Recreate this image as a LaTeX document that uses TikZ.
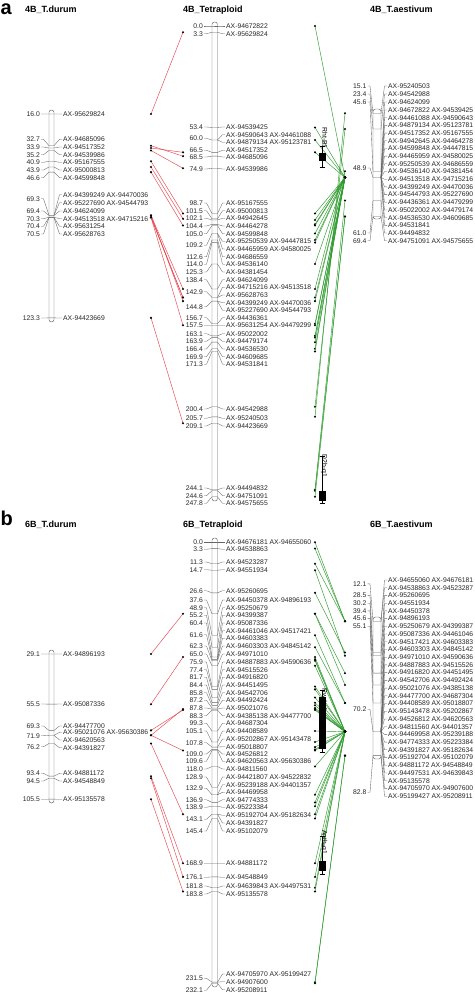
\documentclass[tikz,border=0pt]{standalone}
\usepackage{fontspec}
\setmainfont{Liberation Sans}
\definecolor{lnkgreen}{RGB}{45,155,45}
\definecolor{lnkred}{RGB}{232,70,80}
\tikzset{
  lbl/.style={font=\fontsize{6.8}{7}\selectfont, inner sep=0pt, text=black!85},
  conn/.style={draw=black!60, line width=0.35pt},
  chrom/.style={draw=black!60, line width=0.45pt, fill=white, rounded corners=2.5pt},
  redl/.style={draw=lnkred, line width=0.45pt},
  grnl/.style={draw=lnkgreen, line width=0.45pt},
  dotb/.style={fill=black, circle, inner sep=0pt, minimum size=2.3pt},
  ttl/.style={font=\bfseries\fontsize{9}{10}\selectfont, inner sep=0pt, anchor=base west},
  pnl/.style={font=\bfseries\fontsize{20}{22}\selectfont, inner sep=0.5pt, anchor=base west},
  genebox/.style={fill=black, draw=black, line width=0.3pt},
  genel/.style={font=\fontsize{6.8}{7}\selectfont, inner sep=0pt, rotate=-90},
}
\newcommand{\setchr}[6]{\def\cbL{#1}\def\cbR{#2}\def\cyz{#3}\def\cnX{#4}\def\ctX{#5}\def\cid{#6}}
\newcommand{\chrnums}[1]{\foreach \cm/\ly [count=\i] in {#1}{%
  \pgfmathsetmacro\ay{\cyz+1.9*\cm}%
  \draw[conn] (\cnX+1,\ly) -- (\cnX+3.5,\ly) -- (\cbL,\ay) -- (\cbR,\ay);
  \node[lbl,anchor=east] (\cid n\i) at (\cnX,\ly) {\cm};}}
\newcommand{\chrrows}[1]{\foreach \cm/\ly/\mk [count=\i] in {#1}{%
  \pgfmathsetmacro\ay{\cyz+1.9*\cm}%
  \draw[conn] (\cbR,\ay) -- (\ctX-3.5,\ly) -- (\ctX-1,\ly);
  \node[lbl,anchor=west] (\cid r\i) at (\ctX,\ly) {\mk};}}
% #1 style, #2 x1, #3 y0 first map, #4 x2, #5 y0 second map, #6 list, #7 prefix
\newcommand{\links}[7]{\foreach \ca/\cb [count=\i] in {#6}{%
  \pgfmathsetmacro\ya{#3+1.9*\ca}%
  \pgfmathsetmacro\yb{#5+1.9*\cb}%
  \draw[#1] (#2,\ya) -- (#4,\yb);
  \node[dotb] (#7a\i) at (#2,\ya) {};
  \node[dotb] (#7b\i) at (#4,\yb) {};}}
\begin{document}
\begin{tikzpicture}[x=1pt,y=-1pt]
\useasboundingbox[fill=white] (0,0) rectangle (474,993);

% ================= PANEL A =================
\node[pnl] (pa) at (0,14) {a};
\node[ttl] (ta1) at (25,12.5) {4B\_T.durum};
\node[ttl] (ta2) at (183,12.5) {4B\_Tetraploid};
\node[ttl] (ta3) at (370,12.5) {4B\_T.aestivum};

% red links durum -> tetraploid
\links{redl}{151}{83.6}{183}{26}{16.0/3.3, 32.7/68.5, 33.9/66.5, 35.2/74.9, 40.9/98.7, 43.9/101.5, 46.6/105.0, 69.3/144.8, 69.4/138.4, 70.3/142.9, 70.4/157.5, 70.5/142.9, 123.3/209.1}{ra}
% green links tetraploid -> aestivum
\links{grnl}{315}{26}{345}{84.6}{0.0/48.9, 53.4/48.9, 60.0/48.9, 66.5/48.9, 98.7/48.9, 102.1/48.9, 104.4/48.9, 105.0/48.9, 109.2/48.9, 112.6/48.9, 114.0/48.9, 125.3/48.9, 138.4/45.6, 142.9/48.9, 144.8/48.9, 156.7/48.9, 157.5/48.9, 163.1/48.9, 163.9/48.9, 166.4/48.9, 169.9/48.9, 171.3/48.9, 200.4/23.4, 205.7/15.1, 244.1/61.0, 244.6/69.4, 247.8/69.4}{ga}

% durum 4B
\setchr{49}{54}{83.6}{40}{63}{da}
\draw[chrom] (49,110) rectangle (54,322);
\chrnums{16.0/114, 32.7/139.3, 33.9/147, 35.2/154.7, 40.9/162.3, 43.9/170, 46.6/177.7, 69.3/198.7, 69.4/211, 70.3/218.7, 70.4/226.3, 70.5/234, 123.3/318}
\chrrows{16.0/114/AX-95629824, 32.7/139.3/AX-94685096, 33.9/147/AX-94517352, 35.2/154.7/AX-94539986, 40.9/162.3/AX-95167555, 43.9/170/AX-95000813, 46.6/177.7/AX-94599848, 69.3/194.7/AX-94399249 AX-94470036, 69.3/202.7/AX-95227690 AX-94544793, 69.4/211/AX-94624099, 70.3/218.7/AX-94513518 AX-94715216, 70.4/226.3/AX-95631254, 70.5/234/AX-95628763, 123.3/318/AX-94423669}

% tetraploid 4B
\setchr{212}{217.5}{26}{203}{226}{ta}
\draw[chrom] (212,22) rectangle (217.5,501);
\chrnums{0.0/26, 3.3/33.7, 53.4/127, 60.0/138.3, 66.5/150.3, 68.5/157, 74.9/169, 98.7/203, 101.5/210.7, 102.1/218.3, 104.4/226, 105.0/233.7, 109.2/245.3, 112.6/256.7, 114.0/264.3, 125.3/272, 138.4/279.7, 142.9/291.7, 144.8/306.7, 156.7/317.7, 157.5/325.3, 163.1/333.7, 163.9/341.3, 166.4/349, 169.9/356.7, 171.3/364.3, 200.4/409, 205.7/418.3, 209.1/426, 244.1/488, 244.6/495.7, 247.8/503.3}
\chrrows{0.0/26/AX-94672822, 3.3/33.7/AX-95629824, 53.4/127/AX-94539425, 60.0/134.7/AX-94590643 AX-94461088, 60.0/142.3/AX-94879134 AX-95123781, 66.5/150.3/AX-94517352, 68.5/157/AX-94685096, 74.9/169/AX-94539986, 98.7/203/AX-95167555, 101.5/210.7/AX-95000813, 102.1/218.3/AX-94942645, 104.4/226/AX-94464278, 105.0/233.7/AX-94599848, 109.2/241.3/AX-95250539 AX-94447815, 109.2/249/AX-94465959 AX-94580025, 112.6/256.7/AX-94686559, 114.0/264.3/AX-94536140, 125.3/272/AX-94381454, 138.4/279.7/AX-94624099, 142.9/287.3/AX-94715216 AX-94513518, 142.9/295/AX-95628763, 144.8/302.7/AX-94399249 AX-94470036, 144.8/310.3/AX-95227690 AX-94544793, 156.7/317.7/AX-94436361, 157.5/325.3/AX-95631254 AX-94479299, 163.1/333.7/AX-95022002, 163.9/341.3/AX-94479174, 166.4/349/AX-94536530, 169.9/356.7/AX-94609685, 171.3/364.3/AX-94531841, 200.4/409/AX-94542988, 205.7/418.3/AX-95240503, 209.1/426/AX-94423669, 244.1/488/AX-94494832, 244.6/495.7/AX-94751091, 247.8/503.3/AX-94575655}

% aestivum 4B
\setchr{373}{381}{84.6}{366.5}{388}{aa}
\draw[chrom] (373,109) rectangle (381,219);
\chrnums{15.1/86, 23.4/94, 45.6/102, 48.9/168, 61.0/233.0, 69.4/240.7}
\chrrows{15.1/86/AX-95240503, 23.4/94/AX-94542988, 45.6/102/AX-94624099, 48.9/110.0/AX-94672822 AX-94539425, 48.9/117.7/AX-94461088 AX-94590643, 48.9/125.4/AX-94879134 AX-95123781, 48.9/133.1/AX-94517352 AX-95167555, 48.9/140.8/AX-94942645 AX-94464278, 48.9/148.5/AX-94599848 AX-94447815, 48.9/156.1/AX-94465959 AX-94580025, 48.9/163.8/AX-95250539 AX-94686559, 48.9/171.5/AX-94536140 AX-94381454, 48.9/179.2/AX-94513518 AX-94715216, 48.9/186.9/AX-94399249 AX-94470036, 48.9/194.6/AX-94544793 AX-95227690, 48.9/202.3/AX-94436361 AX-94479299, 48.9/210.0/AX-95022002 AX-94479174, 48.9/217.7/AX-94536530 AX-94609685, 48.9/225.4/AX-94531841, 61.0/233.0/AX-94494832, 69.4/240.7/AX-94751091 AX-94575655}

% gene annotations panel a
\draw[conn,draw=black] (322,146) -- (322,167) (319.5,146) -- (324.5,146) (319.5,167) -- (324.5,167);
\node[genebox, minimum width=5.5pt, minimum height=7.5pt, inner sep=0pt] (g1) at (322,156.5) {};
\node[genel, anchor=north] (g1l) at (327.5,138) {Rht-B1};
\draw[conn,draw=black] (322,456) -- (322,503) (319.5,456) -- (324.5,456) (319.5,503) -- (324.5,503);
\node[genebox, minimum width=5.5pt, minimum height=9pt, inner sep=0pt] (g2) at (322,496) {};
\node[genel, anchor=north] (g2l) at (327.5,466) {D2b-q1};

% ================= PANEL B =================
\node[pnl] (pb) at (0,525) {b};
\node[ttl] (tb1) at (25,527.5) {6B\_T.durum};
\node[ttl] (tb2) at (183,527.5) {6B\_Tetraploid};
\node[ttl] (tb3) at (370,527.5) {6B\_T.aestivum};

\links{redl}{151}{598.7}{183}{542.3}{29.1/37.6, 55.5/60.4, 69.3/88.3, 71.9/87.8, 71.9/109.6, 76.2/143.1, 93.4/168.9, 94.5/176.1, 105.5/183.8}{rb}
\links{grnl}{315}{542.3}{345}{598.3}{0.0/12.1, 3.3/12.1, 11.3/12.1, 14.7/30.2, 26.6/28.5, 37.6/39.4, 37.6/45.6, 48.9/55.1, 55.2/55.1, 60.4/70.2, 61.6/70.2, 62.3/70.2, 65.0/70.2, 75.9/70.2, 77.4/70.2, 81.7/70.2, 84.4/70.2, 85.8/70.2, 87.2/70.2, 87.8/70.2, 88.3/70.2, 99.3/70.2, 105.1/70.2, 107.8/70.2, 109.0/70.2, 109.6/70.2, 118.0/70.2, 132.9/70.2, 136.9/70.2, 138.9/70.2, 143.1/70.2, 145.4/70.2, 168.9/70.2, 176.1/70.2, 181.8/70.2, 183.8/70.2, 231.5/82.8, 232.1/82.8}{gb}

% durum 6B
\setchr{49}{54}{598.7}{40}{63}{db}
\draw[chrom] (49,650) rectangle (54,803);
\chrnums{29.1/654, 55.5/704, 69.3/726, 71.9/735.7, 76.2/746.7, 93.4/773.3, 94.5/781, 105.5/799.3}
\chrrows{29.1/654/AX-94896193, 55.5/704/AX-95087336, 69.3/726/AX-94477700, 71.9/732.3/AX-95021076 AX-95630386, 71.9/740/AX-94620563, 76.2/747.7/AX-94391827, 93.4/773.3/AX-94881172, 94.5/781/AX-94548849, 105.5/799.3/AX-95135578}

% tetraploid 6B
\setchr{212}{217.5}{542.3}{203}{226}{tb}
\draw[chrom] (212,538) rectangle (217.5,987);
\chrnums{0.0/542.3, 3.3/549.3, 11.3/562, 14.7/569.7, 26.6/590.7, 37.6/600, 48.9/607.7, 55.2/615.3, 60.4/623, 61.6/634.7, 62.3/646, 65.0/654, 75.9/662, 77.4/669.7, 81.7/677.3, 84.4/685, 85.8/692.7, 87.2/700.3, 87.8/708, 88.3/715.7, 99.3/723.3, 105.1/731, 107.8/742.7, 109.0/754, 109.6/761.3, 118.0/769, 128.9/777, 132.9/788.3, 136.9/799.7, 138.9/807.3, 143.1/819.3, 145.4/831, 168.9/863.3, 176.1/877.3, 181.8/886, 183.8/894, 231.5/978.3, 232.1/990.2}
\chrrows{0.0/542.3/AX-94676181 AX-94655060, 3.3/549.3/AX-94538863, 11.3/562/AX-94523287, 14.7/569.7/AX-94551934, 26.6/590.7/AX-95260695, 37.6/600/AX-94450378 AX-94896193, 48.9/607.7/AX-95250679, 55.2/615.3/AX-94399387, 60.4/623/AX-95087336, 61.6/630.7/AX-94461046 AX-94517421, 61.6/638.3/AX-94603383, 62.3/646/AX-94603303 AX-94845142, 65.0/654/AX-94971010, 75.9/662/AX-94887883 AX-94590636, 77.4/669.7/AX-94515526, 81.7/677.3/AX-94916820, 84.4/685/AX-94451495, 85.8/692.7/AX-94542706, 87.2/700.3/AX-94492424, 87.8/708/AX-95021076, 88.3/715.7/AX-94385138 AX-94477700, 99.3/723.3/AX-94687304, 105.1/731/AX-94408589, 107.8/739/AX-95202867 AX-95143478, 107.8/746.7/AX-95018807, 109.0/754/AX-94526812, 109.6/761.3/AX-94620563 AX-95630386, 118.0/769/AX-94811560, 128.9/777/AX-94421807 AX-94522832, 132.9/784.7/AX-95239188 AX-94401357, 132.9/792.3/AX-94469958, 136.9/799.7/AX-94774333, 138.9/807.3/AX-95223384, 143.1/815.3/AX-95192704 AX-95182634, 143.1/823/AX-94391827, 145.4/831/AX-95102079, 168.9/863.3/AX-94881172, 176.1/877.3/AX-94548849, 181.8/886/AX-94639843 AX-94497531, 183.8/894/AX-95135578, 231.5/974/AX-94705970 AX-95199427, 231.5/981.7/AX-94907600, 232.1/989.8/AX-95208911}

% aestivum 6B
\setchr{373}{381}{598.3}{366.5}{388}{ab}
\draw[chrom] (373,617) rectangle (381,759);
\chrnums{12.1/583.9, 28.5/595.4, 30.2/603.2, 39.4/610.9, 45.6/618.6, 55.1/626.3, 70.2/709.3, 82.8/792.3}
\chrrows{12.1/580.0/AX-94655060 AX-94676181, 12.1/587.7/AX-94538863 AX-94523287, 28.5/595.4/AX-95260695, 30.2/603.2/AX-94551934, 39.4/610.9/AX-94450378, 45.6/618.6/AX-94896193, 55.1/626.3/AX-95250679 AX-94399387, 70.2/634.0/AX-95087336 AX-94461046, 70.2/641.8/AX-94517421 AX-94603383, 70.2/649.5/AX-94603303 AX-94845142, 70.2/657.2/AX-94971010 AX-94590636, 70.2/664.9/AX-94887883 AX-94515526, 70.2/672.6/AX-94916820 AX-94451495, 70.2/680.4/AX-94542706 AX-94492424, 70.2/688.1/AX-95021076 AX-94385138, 70.2/695.8/AX-94477700 AX-94687304, 70.2/703.5/AX-94408589 AX-95018807, 70.2/711.2/AX-95143478 AX-95202867, 70.2/719.0/AX-94526812 AX-94620563, 70.2/726.7/AX-94811560 AX-94401357, 70.2/734.4/AX-94469958 AX-95239188, 70.2/742.1/AX-94774333 AX-95223384, 70.2/749.8/AX-94391827 AX-95182634, 70.2/757.6/AX-95192704 AX-95102079, 70.2/765.3/AX-94881172 AX-94548849, 70.2/773.0/AX-94497531 AX-94639843, 70.2/780.7/AX-95135578, 82.8/788.4/AX-94705970 AX-94907600, 82.8/796.2/AX-95199427 AX-95208911}

% gene annotations panel b
\draw[conn,draw=black] (322,690) -- (322,752) (319.5,690) -- (324.5,690) (319.5,752) -- (324.5,752);
\node[genebox, minimum width=5.5pt, minimum height=51pt, inner sep=0pt] (g3) at (322,722.5) {};
\node[genel, anchor=north] (g3l) at (327.5,700) {Rwd-q1};
\draw[conn,draw=black] (322,836) -- (322,874) (319.5,836) -- (324.5,836) (319.5,874) -- (324.5,874);
\node[genebox, minimum width=5.5pt, minimum height=9pt, inner sep=0pt] (g4) at (322,866) {};
\node[genel, anchor=north] (g4l) at (327.5,842) {Anth-q1};
\end{tikzpicture}
\end{document}
